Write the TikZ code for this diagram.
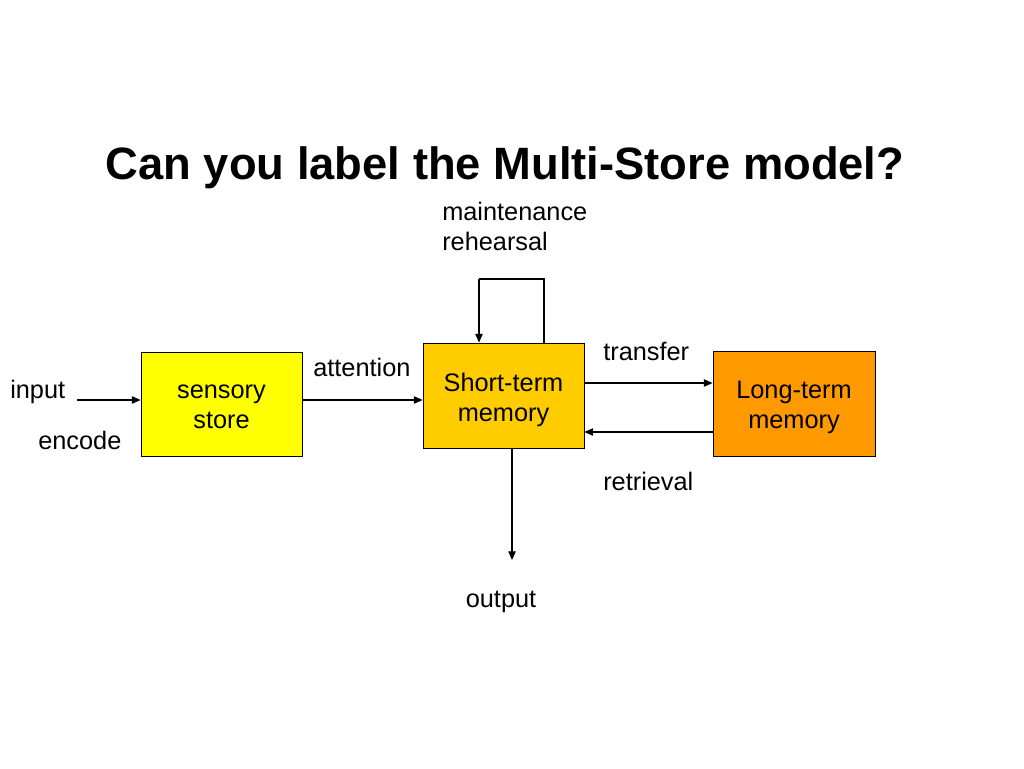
\documentclass[tikz,border=0pt]{standalone}
\usepackage{fontspec}
\setmainfont{Liberation Sans}
\usetikzlibrary{arrows.meta}
\definecolor{sensy}{HTML}{FFFF00}
\definecolor{stmc}{HTML}{FFCC00}
\definecolor{ltmc}{HTML}{FF9900}
\begin{document}
\begin{tikzpicture}[x=0.75pt,y=-0.75pt,
  box/.style={draw=black,line width=0.6pt,inner sep=0pt},
  lbl/.style={font=\fontsize{19}{22.5}\selectfont,inner sep=0pt,align=center},
  conn/.style={line width=0.8pt,-{Triangle[length=6.5pt,width=5.5pt]}}]
\useasboundingbox[fill=white] (0,0) rectangle (1024,768);
\node[font=\bfseries\fontsize{34}{40}\selectfont,inner sep=0pt] (title) at (505,168) {Can you label the Multi-Store model?};
% boxes
\node[box,fill=sensy,minimum width=161*0.75pt,minimum height=104*0.75pt] (sens) at (221.5,404) {};
\node[lbl] (senst) at (221.5,407) {sensory\\store};
\node[box,fill=stmc,minimum width=161*0.75pt,minimum height=105*0.75pt] (stm) at (503.5,395.5) {};
\node[lbl] (stmt) at (503.5,400) {Short-term\\memory};
\node[box,fill=ltmc,minimum width=162*0.75pt,minimum height=105*0.75pt] (ltm) at (794,403.5) {};
\node[lbl] (ltmt) at (794,407.5) {Long-term\\memory};
% labels
\node[lbl,anchor=west] (input) at (10,392) {input};
\node[lbl,anchor=west] (encode) at (38,440) {encode};
\node[lbl,anchor=west] (att) at (313,367) {attention};
\node[lbl,anchor=west] (transfer) at (603,351) {transfer};
\node[lbl,anchor=west] (retr) at (603,481) {retrieval};
\node[lbl,anchor=center] (outp) at (501,602) {output};
\node[lbl,anchor=north west,align=left] (maint) at (442,202) {maintenance\\rehearsal};
% coordinates
\coordinate (inS) at (77,400);
\coordinate (lpA) at (544,279);
\coordinate (lpB) at (479,279);
\coordinate (outE) at (512,560);
% connectors
\draw[conn] (inS) -- (inS -| sens.west);
\draw[conn] (sens.east |- 0,400) -- (stm.west |- 0,400);
\draw[conn] (stm.east |- 0,383) -- (ltm.west |- 0,383);
\draw[conn] (ltm.west |- 0,432) -- (stm.east |- 0,432);
\draw[line width=0.8pt] (lpA |- stm.north) -- (lpA) -- (lpB);
\draw[conn] (lpB) -- (lpB |- stm.north);
\draw[conn] (outE |- stm.south) -- (outE);
\end{tikzpicture}
\end{document}
